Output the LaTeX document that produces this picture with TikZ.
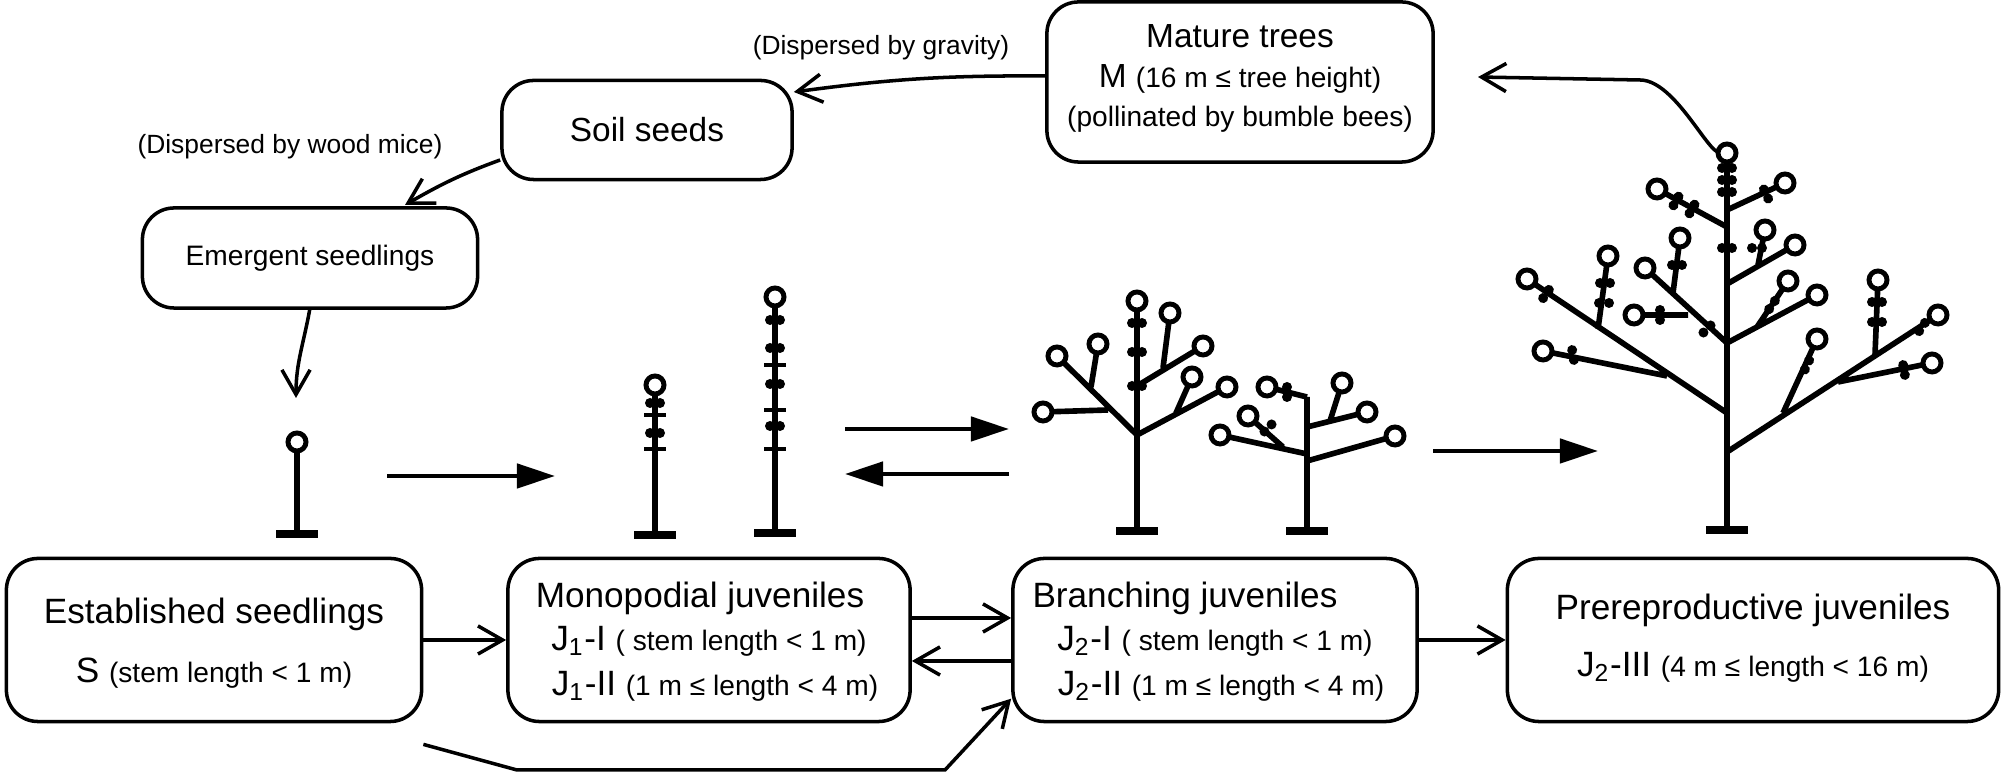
\documentclass[tikz,border=0pt]{standalone}
\usepackage{fontspec}
\setmainfont{Liberation Sans}
\usetikzlibrary{arrows.meta}

\newcommand\flower[2]{\draw[line width=1.4pt,fill=white] (#1,#2) circle (0.09cm);}
\newcommand\leafpair[3]{\fill[shift={(#1,#2)},rotate=#3] (-5,0) circle (0.05cm) (5,0) circle (0.05cm);}
\newcommand\tick[2]{\draw[line width=1pt] (#1-11,#2) -- (#1+11,#2);}
\newcommand\groundbar[2]{\draw[line width=2pt] (#1-21,#2) -- (#1+21,#2);}

\begin{document}
\begin{tikzpicture}[x=0.01cm,y=-0.01cm,
box/.style = {draw, line width=1pt, rounded corners=9pt},
conn/.style = {line width=1pt, -{Straight Barb[length=7pt,width=8pt]}},
big/.style = {line width=1.3pt, -{Triangle[length=0.38cm,width=0.24cm]}},
stem/.style = {line width=1.6pt},
note/.style = {font=\fontsize{7.5pt}{9pt}\selectfont}]

\useasboundingbox (0,0) rectangle (2002,774);

% boxes
\node[box, minimum width=3.86cm, minimum height=1.6cm] (mature) at (1240,82) {};
\node[font=\fontsize{9.5pt}{11pt}\selectfont] at (1240,36) {Mature trees};
\node[font=\fontsize{9.5pt}{11pt}\selectfont] at (1240,79) {M {\fontsize{8pt}{9pt}\selectfont (16 m ≤ tree height)}};
\node[note, font=\fontsize{8pt}{9pt}\selectfont] at (1240,119) {(pollinated by bumble bees)};

\node[box, minimum width=2.9cm, minimum height=0.99cm, font=\fontsize{9.5pt}{11pt}\selectfont] (soil) at (647,130) {Soil seeds};
\node[box, minimum width=3.35cm, minimum height=1cm, font=\fontsize{8pt}{9pt}\selectfont] (emerg) at (310,258) {Emergent seedlings};

\node[box, minimum width=4.15cm, minimum height=1.63cm] (est) at (214,640) {};
\node[font=\fontsize{10pt}{11pt}\selectfont] at (214,614) {Established seedlings};
\node[font=\fontsize{10pt}{11pt}\selectfont] at (214,673) {S {\fontsize{8pt}{9pt}\selectfont (stem length < 1 m)}};

\node[box, minimum width=4.02cm, minimum height=1.63cm] (mono) at (709,640) {};
\node[font=\fontsize{10pt}{11pt}\selectfont] at (700,598) {Monopodial juveniles};
\node[font=\fontsize{10pt}{11pt}\selectfont] at (709,641) {J\textsubscript{1}-I {\fontsize{8pt}{9pt}\selectfont ( stem length < 1 m)}};
\node[font=\fontsize{10pt}{11pt}\selectfont] at (715,686) {J\textsubscript{1}-II {\fontsize{8pt}{9pt}\selectfont (1 m ≤ length < 4 m)}};

\node[box, minimum width=4.04cm, minimum height=1.63cm] (branch) at (1215,640) {};
\node[font=\fontsize{10pt}{11pt}\selectfont] at (1185,598) {Branching juveniles};
\node[font=\fontsize{10pt}{11pt}\selectfont] at (1215,641) {J\textsubscript{2}-I {\fontsize{8pt}{9pt}\selectfont ( stem length < 1 m)}};
\node[font=\fontsize{10pt}{11pt}\selectfont] at (1221,686) {J\textsubscript{2}-II {\fontsize{8pt}{9pt}\selectfont (1 m ≤ length < 4 m)}};

\node[box, minimum width=4.91cm, minimum height=1.63cm] (prerep) at (1753,640) {};
\node[font=\fontsize{10pt}{11pt}\selectfont] at (1753,610) {Prereproductive juveniles};
\node[font=\fontsize{10pt}{11pt}\selectfont] at (1753,667) {J\textsubscript{2}-III {\fontsize{8pt}{9pt}\selectfont (4 m ≤ length < 16 m)}};

% connectors
\coordinate (treetop) at (1724,143);
\coordinate (toMature) at (1478,77);
\coordinate (seedtop) at (296,398);
\coordinate (low1) at (517,770);
\coordinate (low2) at (945,770);
\draw[conn] (mature.west |- 0,76) to[bend right=4] (soil.east |- 0,92);
\node[note] at (881,48) {(Dispersed by gravity)};
\draw[conn] (treetop) to[out=-95,in=0] (1640,80) -- (toMature);
\draw[conn] (soil.west |- 0,160) to[out=200,in=30] (405,205);
\node[note] at (290,147) {(Dispersed by wood mice)};
\draw[conn] (emerg.south |- 0,308) to[out=-100,in=90] (seedtop);
\draw[conn] (est.east) -- (mono.west);
\draw[conn] (mono.east |- 0,618) -- (branch.west |- 0,618);
\draw[conn] (branch.west |- 0,661) -- (mono.east |- 0,661);
\draw[conn] (branch.east) -- (prerep.west);
\draw[conn] ([yshift=-6pt]est.south east) -- (low1) -- (low2) -- ([yshift=7pt]branch.south west);

% plant arrows
\draw[big] (387,476) -- (555,476);
\draw[big] (845,429) -- (1009,429);
\draw[big] (1009,474) -- (845,474);
\draw[big] (1433,451) -- (1598,451);

% seedling
\draw[stem] (297,442) -- (297,534);
\groundbar{297}{534}
\flower{297}{442}

% monopodial juveniles
\draw[stem] (655,385) -- (655,535);
\groundbar{655}{535}
\leafpair{655}{403}{0} \leafpair{655}{433}{0}
\tick{655}{415} \tick{655}{449}
\flower{655}{385}
\draw[stem] (775,297) -- (775,533);
\groundbar{775}{533}
\foreach \y in {320,348,384,426} {\leafpair{775}{\y}{0}}
\foreach \y in {365,410,449} {\tick{775}{\y}}
\flower{775}{297}

% branching juvenile 1
\draw[stem] (1137,301) -- (1137,531);
\groundbar{1137}{531}
\draw[stem] (1137,435) -- (1057,356) (1091,387) -- (1098,344) (1108,410) -- (1043,412);
\draw[stem] (1137,435) -- (1227,387) (1176,413) -- (1192,377);
\draw[stem] (1137,386) -- (1203,346) (1163,368) -- (1170,313);
\foreach \y in {323,352,386} {\leafpair{1137}{\y}{0}}
\foreach \p in {(1057,356),(1098,344),(1043,412),(1227,387),(1192,377),(1203,346),(1170,313),(1137,301)} {\draw[line width=1.4pt,fill=white] \p circle (0.09cm);}

% branching juvenile 2
\draw[stem] (1307,397) -- (1307,531) (1307,397) -- (1267,387);
\groundbar{1307}{531}
\draw[stem] (1307,454) -- (1220,435) (1283,447) -- (1248,416);
\draw[stem] (1307,427) -- (1367,412) (1330,421) -- (1342,383);
\draw[stem] (1307,461) -- (1395,436);
\leafpair{1287}{392}{90} \leafpair{1268}{428}{45}
\foreach \p in {(1267,387),(1220,435),(1248,416),(1367,412),(1342,383),(1395,436)} {\draw[line width=1.4pt,fill=white] \p circle (0.09cm);}

% prereproductive tree
\draw[stem] (1727,153) -- (1727,530);
\groundbar{1727}{530}
\draw[stem] (1727,452) -- (1938,315) (1783,413) -- (1817,339) (1838,382) -- (1932,363) (1875,355) -- (1878,280);
\draw[stem] (1727,413) -- (1527,279) (1598,329) -- (1608,256) (1667,376) -- (1543,351);
\draw[stem] (1727,343) -- (1645,268) (1673,293) -- (1680,238) (1688,315) -- (1634,315);
\draw[stem] (1727,343) -- (1817,295) (1757,327) -- (1788,281);
\draw[stem] (1727,284) -- (1795,245) (1758,265) -- (1765,230);
\draw[stem] (1727,227) -- (1657,189);
\draw[stem] (1727,210) -- (1785,183);
\foreach \y in {168,180,192,248} {\leafpair{1727}{\y}{0}}
\leafpair{1807}{365}{65} \leafpair{1904}{370}{100} \leafpair{1877}{322}{0} \leafpair{1877}{302}{0}
\leafpair{1922}{327}{55} \leafpair{1546}{294}{55} \leafpair{1604}{303}{0} \leafpair{1605}{283}{0}
\leafpair{1573}{355}{100} \leafpair{1707}{329}{45} \leafpair{1677}{265}{0} \leafpair{1660}{315}{90}
\leafpair{1772}{305}{55} \leafpair{1757}{248}{0} \leafpair{1676}{201}{60} \leafpair{1692}{209}{60}
\leafpair{1766}{194}{-65}
\foreach \p in {(1727,153),(1938,315),(1817,339),(1932,363),(1878,280),(1527,279),(1608,256),(1543,351),(1645,268),(1680,238),(1634,315),(1817,295),(1788,281),(1795,245),(1765,230),(1657,189),(1785,183)} {\draw[line width=1.4pt,fill=white] \p circle (0.09cm);}

\end{tikzpicture}
\end{document}
